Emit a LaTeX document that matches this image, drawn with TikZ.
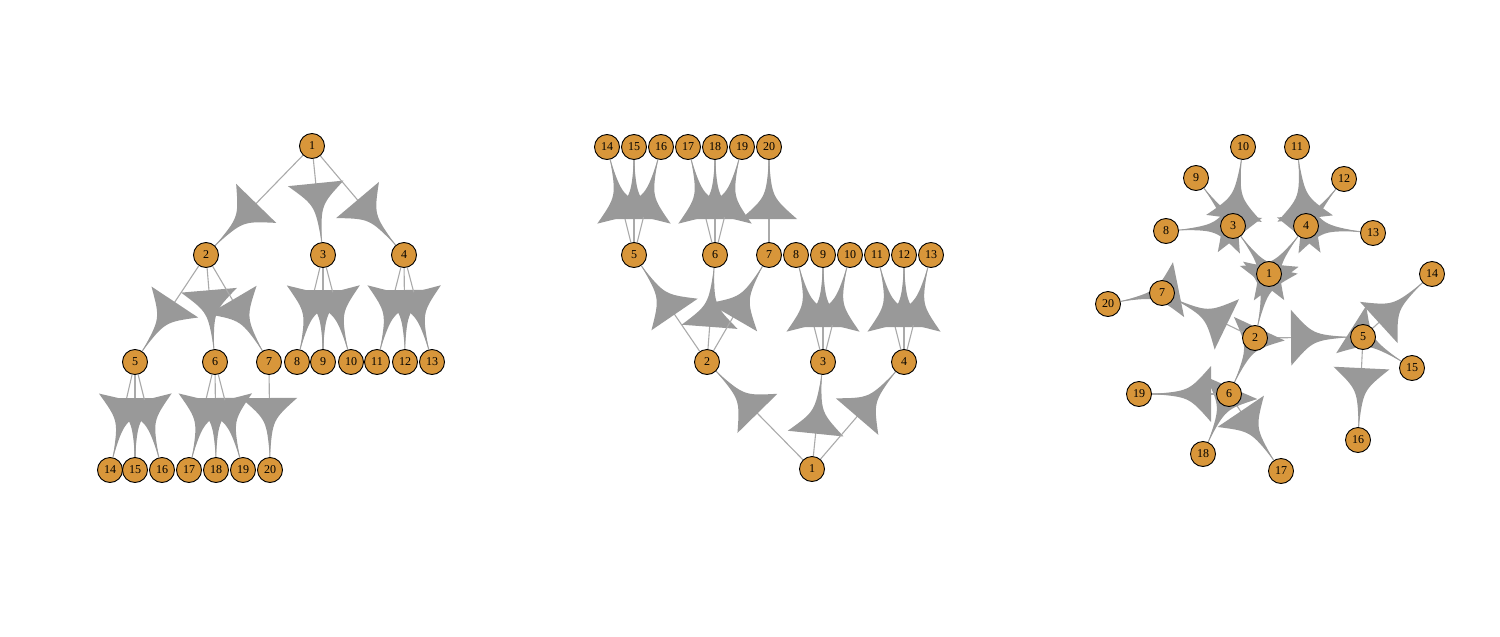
\documentclass[tikz,border=0pt]{standalone}
\usepackage{fontspec}
\setmainfont{Liberation Serif}
\usetikzlibrary{calc}
\definecolor{nodefill}{RGB}{216,150,58}
\definecolor{edgecol}{RGB}{170,170,170}
\definecolor{arrcol}{RGB}{153,153,153}
\tikzset{
  vert/.style={circle,draw=black,line width=0.9pt,fill=nodefill,minimum size=25pt,inner sep=0pt,font=\fontsize{12}{12}\selectfont},
  edgeline/.style={draw=edgecol,line width=1.1pt},
  arrhead/.style={fill=arrcol,draw=none}
}
\newcommand{\arrowedge}[2]{%
  \draw[edgeline] ($(#1)!13pt!(#2)$) -- ($(#2)!13pt!(#1)$);
  \fill[arrhead] ($(#2)!13pt!(#1)$)
    .. controls ($($(#2)!50pt!(#1)$)!3pt!90:(#2)$) .. ($($(#2)!72pt!(#1)$)!28pt!90:(#2)$)
    -- ($($(#2)!72pt!(#1)$)!28pt!-90:(#2)$)
    .. controls ($($(#2)!50pt!(#1)$)!3pt!-90:(#2)$) .. ($(#2)!13pt!(#1)$) -- cycle;
}
\begin{document}
\begin{tikzpicture}[x=1pt,y=-1pt]
\useasboundingbox (0,0) rectangle (1500,637);
% panel 1
\foreach \n/\x/\y in {1/312/146,2/206/255,3/323/255,4/404/255,5/135/362,6/215/362,7/269/362,8/297/362,9/323/362,10/351/362,11/377/362,12/405/362,13/432/362,14/110/470,15/135/470,16/162/470,17/189/470,18/216/470,19/243/470,20/270/470}
  \coordinate (a\n) at (\x,\y);
% panel 2
\foreach \n/\x/\y in {1/812/469,2/707/362,3/823/362,4/904/362,5/634/255,6/715/255,7/769/255,8/796/255,9/823/255,10/850/255,11/877/255,12/904/255,13/931/255,14/607/147,15/634/147,16/661/147,17/688/147,18/715/147,19/742/147,20/769/147}
  \coordinate (b\n) at (\x,\y);
% panel 3
\foreach \n/\x/\y in {1/1269/274,2/1255/338,3/1233/226,4/1306/226,5/1363/337,6/1229/394,7/1162/293,8/1166/231,9/1196/178,10/1243/147,11/1297/147,12/1344/179,13/1373/233,14/1432/274,15/1412/368,16/1358/440,17/1281/471,18/1203/454,19/1139/394,20/1108/304}
  \coordinate (c\n) at (\x,\y);
\foreach \p in {a,b,c}{
  \foreach \s/\t in {1/2,1/3,1/4,2/5,2/6,2/7,3/8,3/9,3/10,4/11,4/12,4/13,5/14,5/15,5/16,6/17,6/18,6/19,7/20}{
    \arrowedge{\p\s}{\p\t}
  }
  \foreach \n in {1,...,20}{
    \node[vert] (\p\n n) at (\p\n) {\n};
  }
}
\end{tikzpicture}
\end{document}
